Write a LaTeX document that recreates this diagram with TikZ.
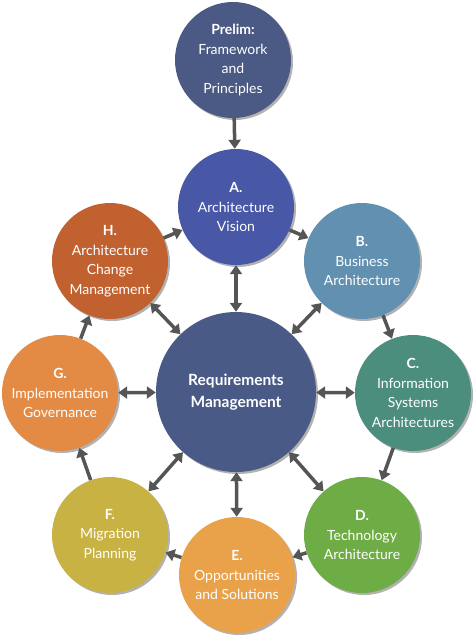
\documentclass[tikz,border=0pt]{standalone}
\usepackage{fontspec}
\setmainfont{Lato}
\usepackage{tikz}
\usetikzlibrary{arrows.meta, shadows}
\definecolor{prelimcol}{HTML}{4B5A84}
\definecolor{acol}{HTML}{4858A6}
\definecolor{bcol}{HTML}{6190B0}
\definecolor{ccol}{HTML}{4C8E7E}
\definecolor{dcol}{HTML}{6EAC46}
\definecolor{ecol}{HTML}{E9A24A}
\definecolor{fcol}{HTML}{C9B244}
\definecolor{gcol}{HTML}{E38B45}
\definecolor{hcol}{HTML}{C0612F}
\definecolor{reqcol}{HTML}{4A5A86}
\definecolor{arrowcol}{HTML}{555555}
\tikzset{
  phase/.style={circle,draw=none,minimum size=116pt,inner sep=0pt,
    text=white,align=center,font=\fontsize{14}{19.5}\selectfont,
    drop shadow={shadow xshift=2pt,shadow yshift=-2pt,fill=black!55,opacity=0.55}},
  bigphase/.style={phase,minimum size=160pt,font=\fontsize{15.5}{22}\selectfont\bfseries},
  cycarrow/.style={-{Triangle[length=9pt,width=12pt]},line width=3.5pt,draw=arrowcol},
  reqarrow/.style={{Triangle[length=9pt,width=12pt]}-{Triangle[length=9pt,width=12pt]},
    line width=3.5pt,draw=arrowcol}
}

\begin{document}
\begin{tikzpicture}[x=1pt,y=-1pt]
  \useasboundingbox (0,0) rectangle (474,641);
  \node[phase, fill=prelimcol] (prelim) at (233,60) {\textbf{Prelim:}\\Framework\\and\\Principles};
  \node[phase, fill=acol] (phaseA) at (236,207) {\textbf{A.}\\Architecture\\Vision};
  \node[phase, fill=bcol] (phaseB) at (362,261) {\textbf{B.}\\Business\\Architecture};
  \node[phase, fill=ccol] (phaseC) at (413,393) {\textbf{C.}\\Information\\Systems\\Architectures};
  \node[phase, fill=dcol] (phaseD) at (362,535) {\textbf{D.}\\Technology\\Architecture};
  \node[phase, fill=ecol] (phaseE) at (237,575) {\textbf{E.}\\Opportunities\\and Solutions};
  \node[phase, fill=fcol] (phaseF) at (110,535) {\textbf{F.}\\Migration\\Planning};
  \node[phase, fill=gcol] (phaseG) at (60,393) {\textbf{G.}\\Implementation\\Governance};
  \node[phase, fill=hcol] (phaseH) at (110,261) {\textbf{H.}\\Architecture\\Change\\Management};
  \node[bigphase, fill=reqcol] (reqm) at (236,392) {Requirements\\Management};

  % cycle
  \draw[cycarrow] (prelim) -- (phaseA);
  \draw[cycarrow] (phaseA) -- (phaseB);
  \draw[cycarrow] (phaseB) -- (phaseC);
  \draw[cycarrow] (phaseC) -- (phaseD);
  \draw[cycarrow] (phaseD) -- (phaseE);
  \draw[cycarrow] (phaseE) -- (phaseF);
  \draw[cycarrow] (phaseF) -- (phaseG);
  \draw[cycarrow] (phaseG) -- (phaseH);
  \draw[cycarrow] (phaseH) -- (phaseA);

  % requirements links
  \foreach \p in {A,B,C,D,E,F,G,H}
    \draw[reqarrow] (reqm) -- (phase\p);
\end{tikzpicture}
\end{document}
